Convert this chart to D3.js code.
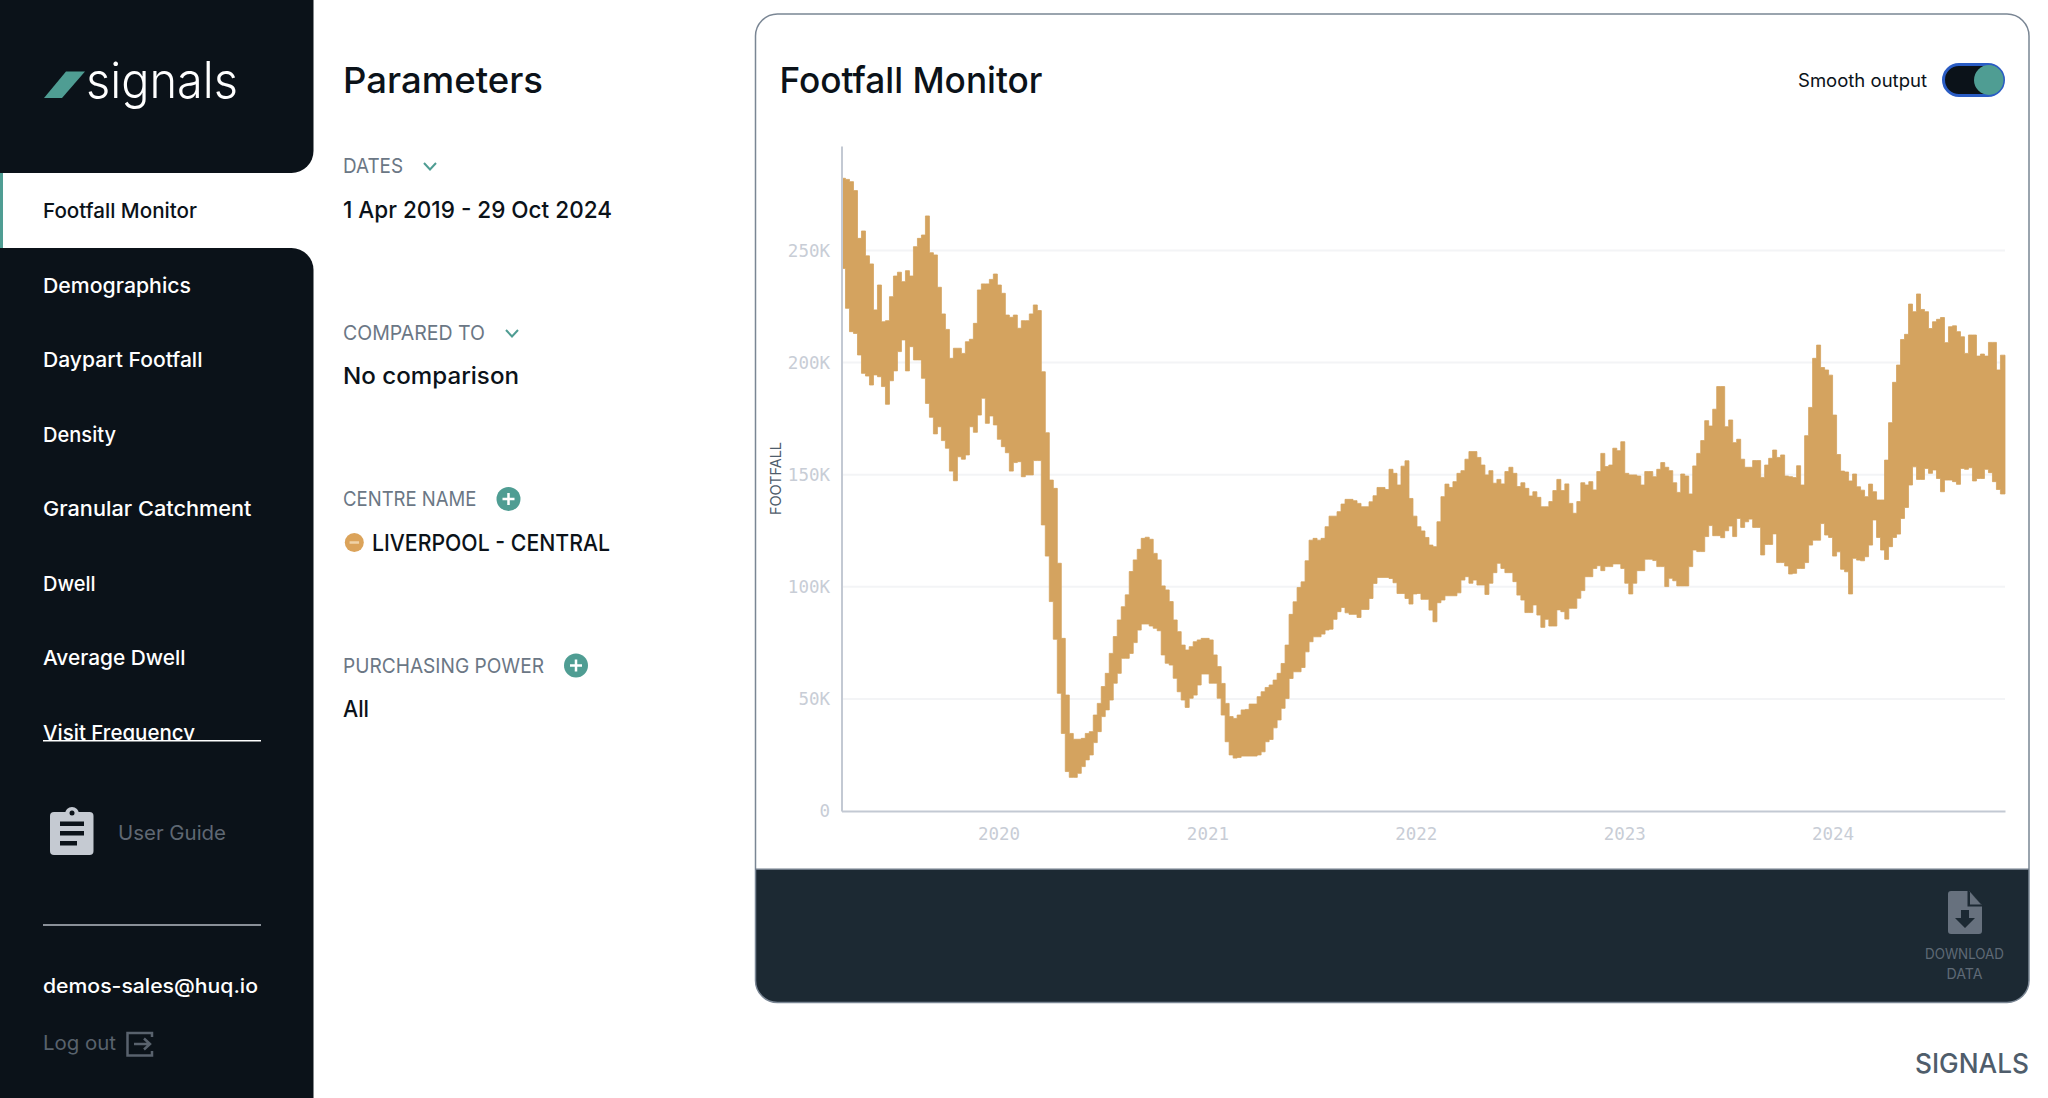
<!DOCTYPE html>
<html>
<head>
  <title>Footfall Monitor</title>
  <meta charset="utf-8">
  <script src="https://cdn.jsdelivr.net/npm/d3@7"></script>
  <style>
    html, body { margin: 0; padding: 0; background: #fff; overflow: hidden; }
    svg { display: block; }
  </style>
</head>
<body>
<div id="page"></div>
<script>
  // footfall, one value per week from 1 Apr 2019, in thousands
  var weeklyHigh = [
    282.2,281.7,280.7,276.7,255.4,258.7,247.6,244.0,223.5,234.6,218.2,218.7,229.4,238.6,240.3,236.1,241.0,238.6,251.7,255.4,
    256.9,265.4,249.0,248.0,233.6,221.7,214.8,201.9,206.4,206.4,204.1,209.3,210.4,217.5,232.4,235.1,235.1,237.1,239.5,234.6,
    230.9,221.2,220.2,221.2,215.3,218.7,218.7,221.7,225.7,223.2,195.9,168.7,147.6,143.9,110.5,77.0,51.7,34.6,32.0,32.0,
    32.4,34.6,35.4,42.8,48.0,55.5,61.4,70.3,77.8,85.2,91.1,96.4,106.8,112.0,116.7,121.6,122.1,121.2,114.9,112.0,
    100.4,98.6,93.4,85.2,80.0,74.0,71.8,73.3,75.5,76.3,77.0,77.0,76.3,69.6,64.4,56.9,48.0,42.1,41.3,42.8,
    45.1,45.3,47.7,47.7,51.0,53.2,55.1,56.2,58.4,61.4,65.8,74.0,87.7,93.3,99.7,102.2,111.6,120.8,121.6,120.8,
    121.6,126.8,131.5,131.5,133.5,136.9,139.0,139.0,138.4,137.2,135.7,135.7,137.9,140.6,144.3,144.3,143.4,152.4,150.6,145.4,
    153.8,156.2,139.4,131.5,126.8,124.9,122.0,118.6,117.9,129.0,140.2,145.8,144.3,146.9,150.6,151.8,156.9,160.3,160.3,157.7,
    154.3,149.9,151.8,146.2,147.9,145.9,151.4,153.3,150.6,144.7,146.4,143.9,140.5,142.4,139.9,135.7,135.7,138.0,142.9,147.9,
    142.9,145.9,137.2,132.8,138.0,146.4,145.4,146.9,143.2,151.4,159.5,153.6,154.3,161.8,160.7,164.7,150.6,149.9,149.9,149.4,
    145.4,151.4,151.4,149.1,152.4,155.4,153.3,151.8,146.4,142.1,150.3,149.4,141.4,153.9,159.5,165.2,174.1,171.7,179.2,189.3,
    189.3,171.4,174.4,164.3,165.8,156.9,153.3,153.3,156.3,156.3,148.8,154.3,157.3,161.0,157.7,158.8,149.4,149.1,148.7,154.0,
    145.4,167.4,180.0,201.9,207.8,197.8,196.7,194.4,176.6,159.0,151.6,151.2,147.2,150.3,144.6,143.1,140.2,145.8,142.4,138.7,
    138.7,156.5,173.2,191.2,198.9,210.3,212.6,226.1,222.7,230.6,223.7,222.7,215.2,218.2,219.3,220.1,208.9,216.0,216.4,213.8,
    211.5,204.1,212.3,212.3,202.9,203.8,202.9,209.0,209.0,196.7,203.3
  ];
  var weeklyLow = [
    242.0,224.2,213.8,213.0,203.4,195.2,194.0,190.0,194.5,193.7,189.3,181.4,191.9,196.3,204.9,210.1,196.3,207.1,201.2,201.2,
    193.0,181.8,175.6,168.2,171.4,165.2,161.8,151.6,147.3,158.0,156.9,158.8,171.4,168.9,176.6,184.1,172.9,176.2,172.2,165.8,
    162.5,159.8,151.6,155.4,155.8,149.1,149.9,149.9,156.3,156.3,127.6,113.7,93.4,76.6,52.5,34.6,17.6,15.0,15.0,16.8,
    19.8,22.8,25.0,30.5,35.4,42.1,45.1,49.5,57.0,61.4,68.1,68.1,70.3,75.1,80.7,83.4,83.4,82.5,81.5,80.4,
    69.6,65.9,65.1,59.2,53.2,49.5,46.2,50.3,51.7,56.2,61.1,61.1,57.0,57.0,50.3,42.8,30.9,25.0,23.6,23.9,
    24.5,24.5,24.5,24.5,25.0,26.4,30.9,31.9,37.1,40.6,45.8,50.2,59.1,62.1,62.1,64.0,71.0,75.5,77.7,77.7,
    78.9,80.7,81.1,85.5,88.9,90.8,88.4,87.7,87.7,86.3,89.9,89.9,94.8,101.5,104.2,104.2,104.2,103.7,101.8,97.0,
    97.0,94.8,92.3,96.8,97.0,94.4,94.4,89.6,84.4,92.9,94.1,96.0,96.0,96.0,97.3,103.0,104.5,101.6,103.0,100.8,
    100.8,96.6,101.6,106.3,110.5,108.2,106.3,106.3,102.3,96.3,94.1,88.5,88.5,91.9,87.4,81.9,85.5,82.5,82.5,89.7,
    88.9,85.6,90.4,90.4,94.9,98.3,104.5,104.5,108.2,109.4,107.2,109.0,109.0,110.2,110.2,108.2,101.6,96.8,101.6,107.2,
    107.2,112.3,112.3,111.7,109.0,109.0,100.1,103.8,102.7,100.4,100.4,100.4,109.0,116.4,115.7,115.7,122.4,127.3,122.8,122.8,
    121.9,125.0,127.1,122.4,130.5,126.5,129.0,130.2,126.5,126.5,114.2,118.9,118.9,123.6,110.8,110.8,109.3,105.7,106.0,108.2,
    108.2,110.8,118.6,120.8,120.8,128.2,123.1,122.0,113.7,115.6,107.8,106.7,96.8,112.7,111.9,111.6,113.4,118.6,129.8,122.0,
    116.4,112.2,117.9,122.0,123.5,130.5,135.4,145.4,153.5,147.9,147.9,152.8,150.6,152.1,148.3,142.4,147.6,147.6,146.9,145.7,
    152.8,152.4,153.1,147.2,148.3,148.3,152.4,150.9,146.9,143.4,141.4
  ];
  var yTicks = [0, 50, 100, 150, 200, 250];
  var xTickYears = [2020, 2021, 2022, 2023, 2024];
  var navItems = ["Footfall Monitor", "Demographics", "Daypart Footfall", "Density",
                  "Granular Catchment", "Dwell", "Average Dwell", "Visit Frequency"];

  var uiFont = "Inter, 'Noto Sans', sans-serif";
  var monoFont = "'DejaVu Sans Mono', monospace";
  var ink = "#0b1219", teal = "#4f9d93", ochre = "#d4a35f", slate = "#6b7785";

  // the nav labels are stretched to the width they have in the original font
  var navTextWidth = {
    "Footfall Monitor": 154, "Demographics": 148, "Daypart Footfall": 159.5, "Density": 73,
    "Granular Catchment": 208.5, "Dwell": 52.5, "Average Dwell": 142.5, "Visit Frequency": 152
  };

  var startDate = new Date(2019, 3, 1), endDate = new Date(2024, 9, 29);

  var svg = d3.select("#page").append("svg")
    .attr("width", 2048)
    .attr("height", 1098);

  // small helper so the many labels stay short
  function label(parent, str, x, y, size, fill, opts) {
    opts = opts || {};
    var t = parent.append("text")
      .attr("x", x).attr("y", y)
      .attr("font-family", opts.family || uiFont)
      .attr("font-size", size)
      .attr("font-weight", opts.weight || 400)
      .attr("fill", fill)
      .attr("text-anchor", opts.anchor || "start")
      .text(str);
    if (opts.width) t.attr("textLength", opts.width).attr("lengthAdjust", "spacingAndGlyphs");
    return t;
  }

  // ---- sidebar
  var side = svg.append("g");
  side.append("path").attr("fill", ink)
    .attr("d", "M0,0H313.5V151a22,22 0 0 1 -22,22H0Z");
  side.append("path").attr("fill", ink)
    .attr("d", "M0,248H291.5a22,22 0 0 1 22,22V1098H0Z");
  side.append("rect").attr("x", 0).attr("y", 173).attr("width", 3).attr("height", 75).attr("fill", teal);

  side.append("path").attr("fill", teal).attr("d", "M44,98L66,71.5H85L62,98Z");
  label(side, "signals", 86, 98, 50, "#fff", {weight: 300, width: 152});

  var defs = svg.append("defs");
  defs.append("clipPath").attr("id", "navClip")
    .append("rect").attr("x", 0).attr("y", 173).attr("width", 313).attr("height", 568);

  var navY = d3.scalePoint().domain(navItems).range([218, 740]);
  var nav = side.append("g").attr("clip-path", "url(#navClip)");
  nav.selectAll("text").data(navItems).join("text")
    .attr("x", 43)
    .attr("y", function(d) { return navY(d); })
    .attr("font-family", uiFont)
    .attr("font-size", 20.5)
    .attr("font-weight", 500)
    .attr("fill", function(d, i) { return i == 0 ? ink : "#fff"; })
    .attr("textLength", function(d) { return navTextWidth[d]; })
    .attr("lengthAdjust", "spacingAndGlyphs")
    .text(function(d) { return d; });
  side.append("rect").attr("x", 43).attr("y", 740).attr("width", 218).attr("height", 1.5).attr("fill", "#fff");

  // user guide
  side.append("rect").attr("x", 50).attr("y", 812).attr("width", 43.5).attr("height", 43).attr("rx", 4).attr("fill", "#c5cad2");
  side.append("circle").attr("cx", 72).attr("cy", 814).attr("r", 7).attr("fill", "#c5cad2");
  side.append("circle").attr("cx", 72).attr("cy", 813).attr("r", 2.5).attr("fill", ink);
  side.append("rect").attr("x", 60).attr("y", 821.5).attr("width", 24).attr("height", 4.5).attr("fill", ink);
  side.append("rect").attr("x", 60).attr("y", 831).attr("width", 24).attr("height", 4.5).attr("fill", ink);
  side.append("rect").attr("x", 60).attr("y", 841).attr("width", 17).attr("height", 4.5).attr("fill", ink);
  label(side, "User Guide", 118, 840, 20, "#5f6873", {width: 108});

  side.append("rect").attr("x", 43).attr("y", 924).attr("width", 218).attr("height", 2).attr("fill", "#8a9098");
  label(side, "demos-sales@huq.io", 43, 993, 20, "#fff", {weight: 500, width: 215});
  label(side, "Log out", 43, 1050, 20, "#59626d", {width: 73});
  side.append("path").attr("fill", "none").attr("stroke", "#59626d").attr("stroke-width", 2.5)
    .attr("d", "M152,1037V1033H127.5V1055.5H152V1051M134,1044H150M144,1038.5L150,1044L144,1049.5");

  // ---- parameters column
  var params = svg.append("g");
  label(params, "Parameters", 343, 93, 36, ink, {weight: 500, width: 200});

  function chevron(x, y) {
    params.append("path").attr("fill", "none").attr("stroke", teal).attr("stroke-width", 2)
      .attr("d", "M" + (x - 6) + "," + (y - 3) + "l6,6.5l6,-6.5");
  }
  function badge(x, y, r, fill, sign) {
    params.append("circle").attr("cx", x).attr("cy", y).attr("r", r).attr("fill", fill);
    var a = r * 0.5;
    var d = "M" + (x - a) + "," + y + "h" + (2 * a);
    if (sign == "+") d += "M" + x + "," + (y - a) + "v" + (2 * a);
    params.append("path").attr("stroke", sign == "+" ? "#fff" : "#f0d3a8").attr("stroke-width", 2.5).attr("d", d);
  }

  label(params, "DATES", 343, 173, 20, slate, {width: 60});
  chevron(430, 166);
  label(params, "1 Apr 2019 - 29 Oct 2024", 343, 218, 23.5, ink, {weight: 500, width: 269});

  label(params, "COMPARED TO", 343, 340, 20, slate, {width: 142});
  chevron(512, 333);
  label(params, "No comparison", 343, 384, 23.5, ink, {weight: 500, width: 176});

  label(params, "CENTRE NAME", 343, 506, 20, slate, {width: 133.5});
  badge(508.5, 499, 12, teal, "+");
  badge(354.3, 542.5, 9.5, "#dba35a", "-");
  label(params, "LIVERPOOL - CENTRAL", 372, 551, 23.5, ink, {weight: 500, width: 238});

  label(params, "PURCHASING POWER", 343, 672.5, 20, slate, {width: 201});
  badge(576, 665.5, 12, teal, "+");
  label(params, "All", 343, 717, 23.5, ink, {weight: 500, width: 26});

  // ---- chart card
  var card = svg.append("g");
  card.append("path").attr("fill", "#1c2933")
    .attr("d", "M755.5,869H2029V980.5a22,22 0 0 1 -22,22H777.5a22,22 0 0 1 -22,-22Z");
  card.append("rect").attr("x", 755.5).attr("y", 14).attr("width", 1273.5).attr("height", 988.5)
    .attr("rx", 22).attr("fill", "none").attr("stroke", "#7a8694").attr("stroke-width", 1.5);
  card.append("rect").attr("x", 755.5).attr("y", 868.5).attr("width", 1273.5).attr("height", 1.5).attr("fill", "#6f7a87");

  label(card, "Footfall Monitor", 779.5, 93, 36, ink, {weight: 500, width: 263});
  label(card, "Smooth output", 1798, 86.5, 18, ink, {width: 129});

  defs.append("clipPath").attr("id", "toggleClip")
    .append("rect").attr("x", 1943.5).attr("y", 64.5).attr("width", 60).attr("height", 31).attr("rx", 15.5);
  card.append("rect").attr("x", 1943.5).attr("y", 64.5).attr("width", 60).attr("height", 31).attr("rx", 15.5)
    .attr("fill", ink).attr("stroke", "#2a5cc4").attr("stroke-width", 3);
  card.append("circle").attr("cx", 1989).attr("cy", 80).attr("r", 15).attr("fill", teal)
    .attr("clip-path", "url(#toggleClip)");

  // download button
  card.append("path").attr("fill", "#67717e")
    .attr("d", "M1951,891H1969L1982,905V931a3,3 0 0 1 -3,3H1951a3,3 0 0 1 -3,-3V894a3,3 0 0 1 3,-3Z");
  card.append("path").attr("fill", "#1c2933").attr("d", "M1967.5,891V906.5H1982V905L1969,891Z");
  card.append("path").attr("fill", "#67717e").attr("d", "M1970,892V904.5H1981Z");
  card.append("path").attr("fill", "#1c2933")
    .attr("d", "M1961,910H1969V918H1975L1965,928L1955,918H1961Z");
  label(card, "DOWNLOAD", 1964.5, 959, 14, "#5f6a76", {anchor: "middle", width: 79});
  label(card, "DATA", 1964.5, 979, 14, "#5f6a76", {anchor: "middle", width: 36});

  label(svg, "SIGNALS", 1915, 1073, 27, "#4f5d6b", {weight: 500, width: 114});

  // ---- the footfall chart
  var x = d3.scaleTime().domain([startDate, endDate]).range([841.5, 2005]);
  var y = d3.scaleLinear().domain([0, 296.6]).range([811, 146]);

  var weeks = weeklyHigh.map(function(high, i) {
    return { date: d3.timeDay.offset(startDate, i * 7), high: high, low: weeklyLow[i] };
  });
  // last reading holds until the end of the range
  weeks.push({ date: endDate, high: weeklyHigh[weeklyHigh.length - 1], low: weeklyLow[weeklyLow.length - 1] });

  var chart = svg.append("g");

  chart.append("g").selectAll("line").data(yTicks.slice(1)).join("line")
    .attr("x1", x.range()[0]).attr("x2", x.range()[1])
    .attr("y1", function(d) { return y(d); }).attr("y2", function(d) { return y(d); })
    .attr("stroke", "#f3f4f6").attr("stroke-width", 2);

  chart.append("path")
    .datum(weeks)
    .attr("fill", ochre)
    .attr("stroke", ochre)
    .attr("stroke-width", 0.8)
    .attr("stroke-linejoin", "round")
    .attr("d", d3.area()
      .curve(d3.curveStepAfter)
      .x(function(d) { return x(d.date); })
      .y0(function(d) { return y(d.low); })
      .y1(function(d) { return y(d.high); })
    );

  var yAxis = chart.append("g")
    .attr("transform", "translate(" + x.range()[0] + ",0)")
    .call(d3.axisLeft(y)
      .tickValues(yTicks)
      .tickSize(0)
      .tickPadding(11.5)
      .tickFormat(function(d) { return d == 0 ? "0" : d + "K"; })
    );
  var xAxis = chart.append("g")
    .attr("transform", "translate(0," + y(0) + ")")
    .call(d3.axisBottom(x)
      .tickValues(xTickYears.map(function(yr) { return new Date(yr, 0, 1); }))
      .tickSize(0)
      .tickPadding(17)
      .tickFormat(d3.timeFormat("%Y"))
    );
  [yAxis, xAxis].forEach(function(axis) {
    axis.select(".domain").attr("stroke", "#c3c9d3").attr("stroke-width", 2);
    axis.selectAll("text")
      .attr("font-family", monoFont)
      .attr("font-size", 17.5)
      .attr("fill", "#c8cdd6");
  });

  label(chart, "FOOTFALL", 0, 0, 15, "#4f5d6b", {anchor: "middle", width: 73})
    .attr("transform", "translate(781,478.5) rotate(-90)");
</script>
</body>
</html>
